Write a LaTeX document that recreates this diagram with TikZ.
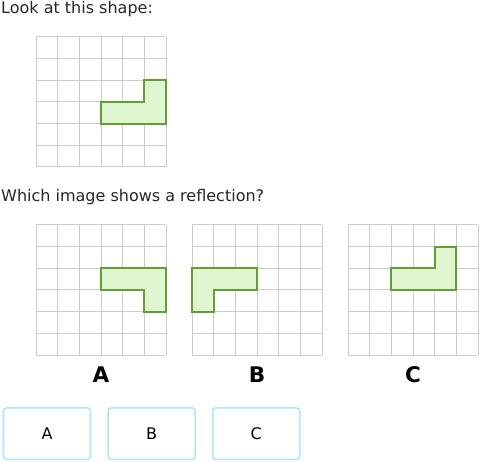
\documentclass[tikz,border=0pt]{standalone}
\usepackage{fontspec}
\setmainfont{DejaVu Sans}
\usepackage{tikz}
\usetikzlibrary{positioning, calc}
\definecolor{gridgray}{RGB}{204,204,204}
\definecolor{shapeline}{RGB}{99,158,52}
\definecolor{shapefill}{RGB}{224,246,208}
\definecolor{btnblue}{RGB}{174,232,250}
\tikzstyle{gridline} = [gridgray, line width=1pt]
\tikzstyle{lshape} = [draw=shapeline, fill=shapefill, line width=2pt, line join=miter]
\tikzstyle{question} = [anchor=base west, inner sep=0pt, font=\fontsize{16}{19}\selectfont, text=black!85]
\tikzstyle{choice} = [anchor=base, inner sep=0pt, font=\fontsize{21.5}{24}\selectfont\bfseries]
\tikzstyle{button} = [draw=btnblue, line width=1.6pt, rounded corners=3pt, minimum width=87pt, minimum height=51.5pt, inner sep=0pt, font=\fontsize{16}{19}\selectfont]

\begin{document}
\begin{tikzpicture}[x=1pt, y=-1pt]
	\useasboundingbox (0,0) rectangle (480,462);
	
	\coordinate (gridT) at (36,37);
	\coordinate (gridA) at (36,225);
	\coordinate (gridB) at ($ (gridA) + (156,0) $);
	\coordinate (gridC) at ($ (gridB) + (156,0) $);
	
	\newcommand{\SQ}{21.667}
	\newcommand{\GRID}[1]{\foreach \k in {0,...,6}{\draw[gridline] ($ (#1) + (\k*\SQ,0) $) -- ++(0,130);\draw[gridline] ($ (#1) + (0,\k*\SQ) $) -- ++(130,0);}}
	
	\GRID{gridT}
	\GRID{gridA}
	\GRID{gridB}
	\GRID{gridC}
	
	% the shape and its three images
	\draw[lshape] ($ (gridT) + (5*\SQ,2*\SQ) $) -- ++(\SQ,0) -- ++(0,2*\SQ) -- ++(-3*\SQ,0) -- ++(0,-\SQ) -- ++(2*\SQ,0) -- cycle;
	\draw[lshape] ($ (gridA) + (3*\SQ,2*\SQ) $) -- ++(3*\SQ,0) -- ++(0,2*\SQ) -- ++(-\SQ,0) -- ++(0,-\SQ) -- ++(-2*\SQ,0) -- cycle;
	\draw[lshape] ($ (gridB) + (0,2*\SQ) $) -- ++(3*\SQ,0) -- ++(0,\SQ) -- ++(-2*\SQ,0) -- ++(0,\SQ) -- ++(-\SQ,0) -- cycle;
	\draw[lshape] ($ (gridC) + (2*\SQ,2*\SQ) $) -- ++(2*\SQ,0) -- ++(0,-\SQ) -- ++(\SQ,0) -- ++(0,2*\SQ) -- ++(-3*\SQ,0) -- cycle;
	
	\node[question] (look) at (1,14) {Look at this shape:};
	\node[question] (which) at (1,202) {Which image shows a reflection?};
	
	\node[choice] (labA) at ($ (gridA) + (65,158) $) {A};
	\node[choice] (labB) at ($ (gridB) + (65,158) $) {B};
	\node[choice] (labC) at ($ (gridC) + (65,158) $) {C};
	
	\node[button] (btnA) at (47,433.7) {A};
	\node[button, right=16pt of btnA] (btnB) {B};
	\node[button, right=16pt of btnB] (btnC) {C};
	
\end{tikzpicture}
\end{document}
